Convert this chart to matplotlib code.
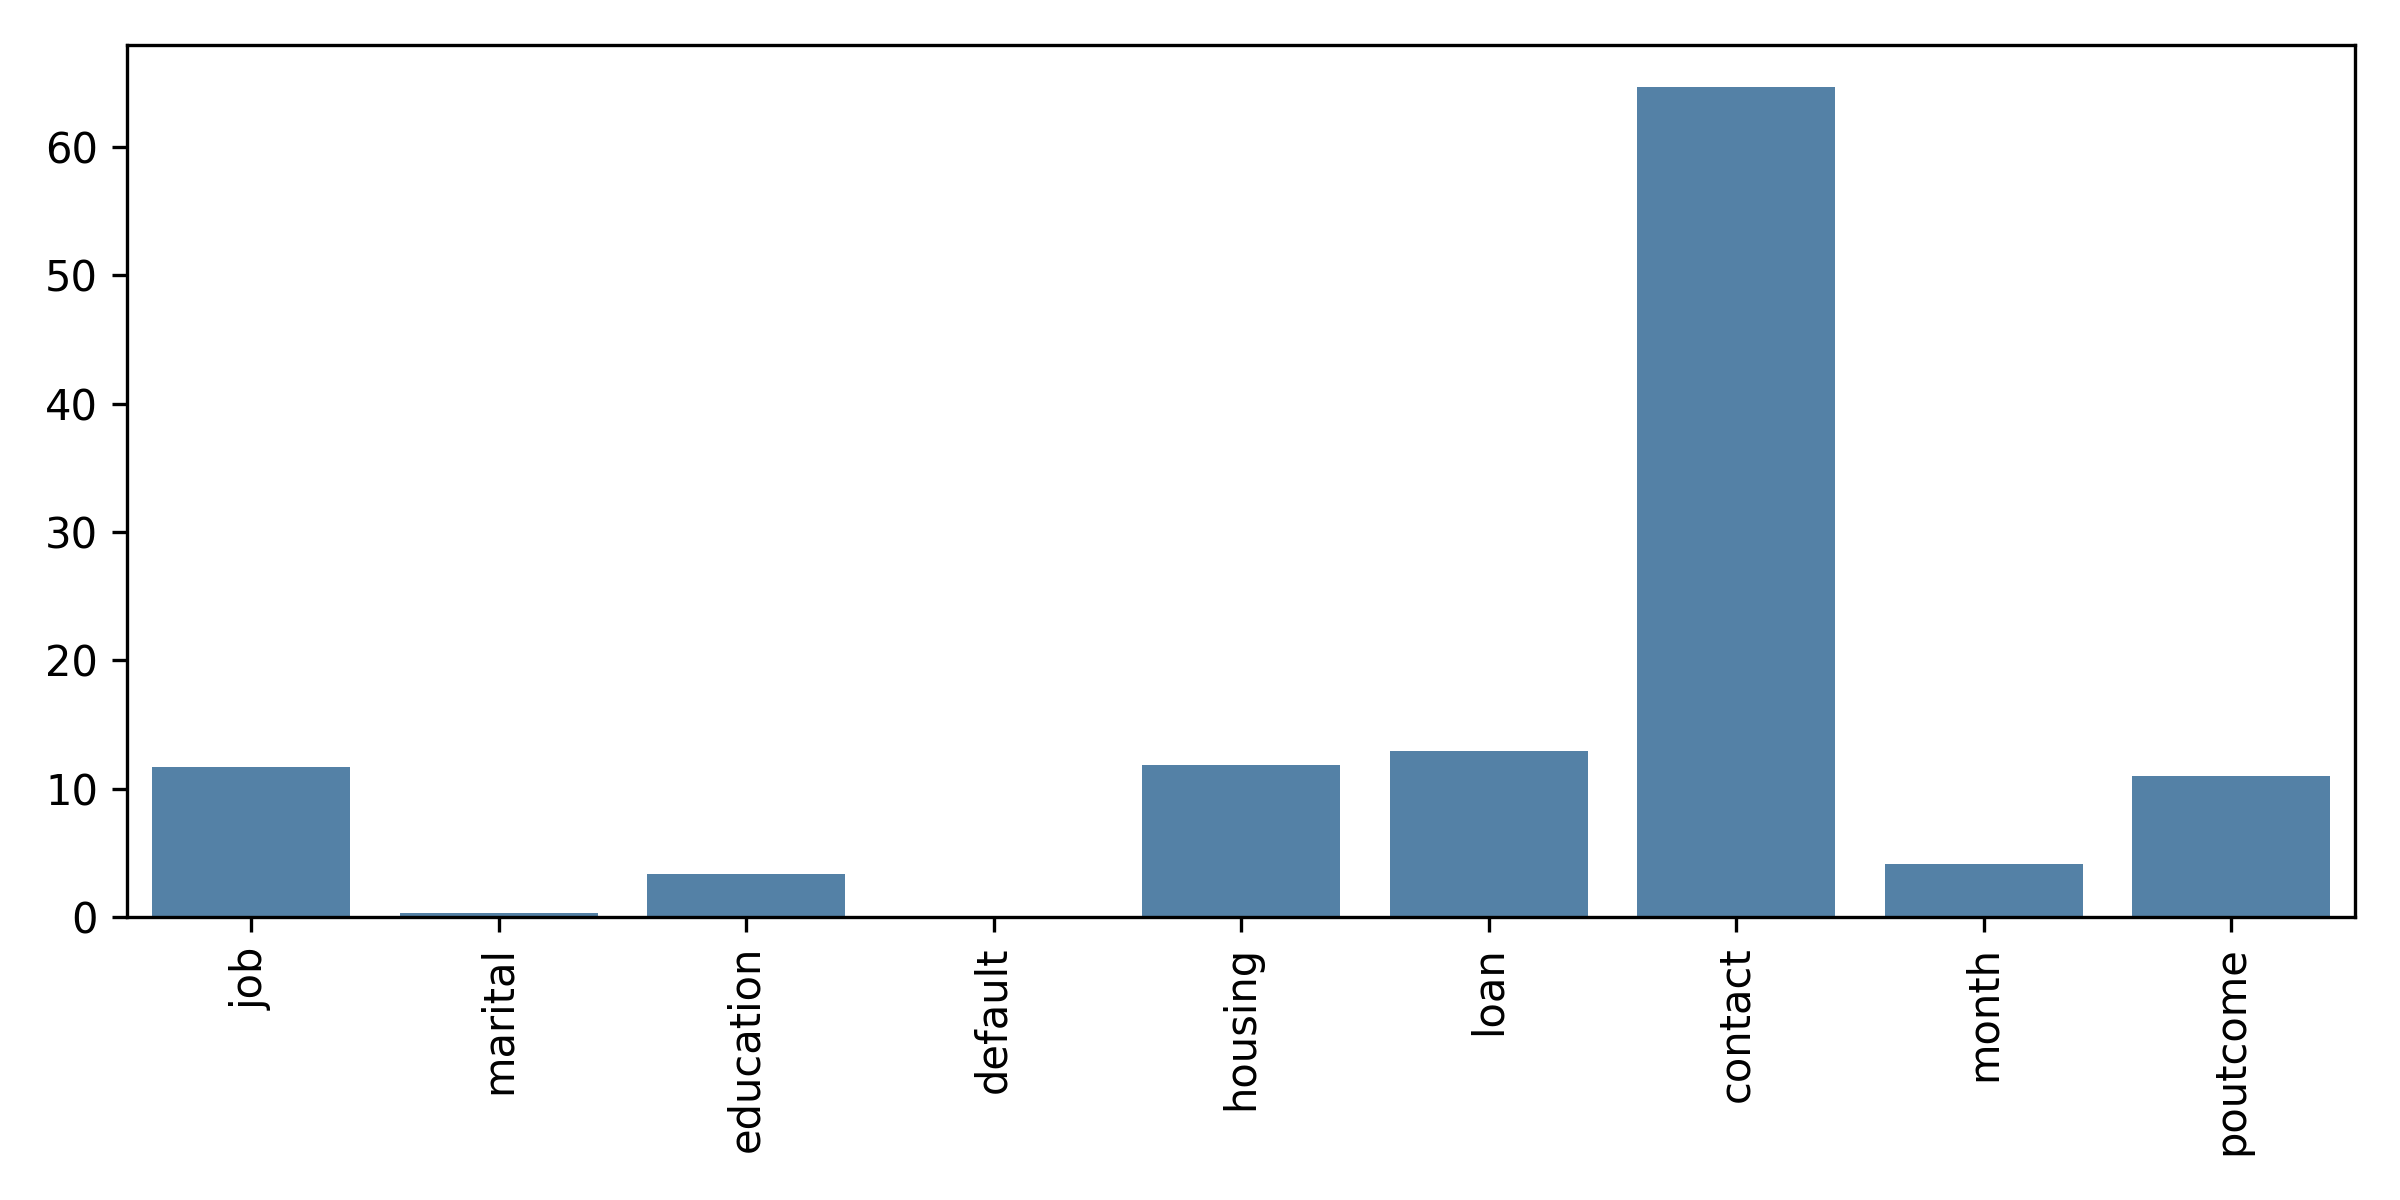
import numpy as np
import pandas as pd
import matplotlib
matplotlib.use("Agg")
import matplotlib.pyplot as plt
import seaborn as sns

# share of missing / unknown values per categorical column (%)
columns = ["job", "marital", "education", "default", "housing",
           "loan", "contact", "month", "poutcome"]
values = [11.66, 0.31, 3.34, 0.0, 11.81, 12.9, 64.7, 4.12, 10.96]

df = pd.DataFrame({"column": columns, "pct": values})

fig, ax = plt.subplots(figsize=(8, 4), dpi=300)
sns.barplot(data=df, x="column", y="pct", color="steelblue", ax=ax)
ax.set_xlabel("")
ax.set_ylabel("")
plt.xticks(rotation=90)
plt.tight_layout()
plt.savefig("out.png", dpi=300)
